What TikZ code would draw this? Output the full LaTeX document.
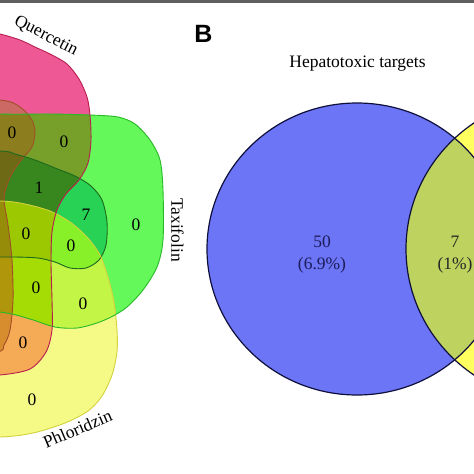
\documentclass[tikz,border=0pt]{standalone}
\usepackage{fontspec}
\setmainfont{Liberation Serif}
\newfontfamily\bsans{Liberation Sans}
% region colours (panel A)
\definecolor{cQ}{RGB}{238,88,148}
\definecolor{cG}{RGB}{100,248,90}
\definecolor{cY}{RGB}{245,250,135}
\definecolor{cQO}{RGB}{205,105,100}
\definecolor{cQG}{RGB}{118,160,42}
\definecolor{cGY}{RGB}{195,245,70}
\definecolor{cQY}{RGB}{245,170,85}
\definecolor{cGD}{RGB}{40,210,85}
\definecolor{cGDY}{RGB}{135,240,40}
\definecolor{cQGY}{RGB}{165,220,5}
\definecolor{cQGD}{RGB}{55,135,30}
\definecolor{cQGDY}{RGB}{155,200,0}
\definecolor{cQOY}{RGB}{215,140,45}
\definecolor{cQGO}{RGB}{140,125,30}
\definecolor{cQGDO}{RGB}{110,105,20}
\definecolor{cQGYO}{RGB}{175,150,10}
\definecolor{cQGDYO}{RGB}{150,140,10}
\definecolor{lQ}{RGB}{185,30,80}
\definecolor{lG}{RGB}{40,185,40}
\definecolor{lD}{RGB}{30,105,30}
\definecolor{lY}{RGB}{210,210,60}
\definecolor{lO}{RGB}{160,80,40}
% panel B
\definecolor{bBlue}{RGB}{108,117,245}
\definecolor{bYel}{RGB}{255,255,95}
\definecolor{bOv}{RGB}{190,210,95}
\definecolor{bLine}{RGB}{15,15,60}
\definecolor{topbar}{RGB}{95,95,95}
\definecolor{navytxt}{RGB}{28,28,90}
% shapes
\def\shQ{plot[smooth cycle] coordinates {(-80,20) (-30,28) (0,34) (20,40) (35,47) (52,55) (67,64) (79,79) (87,97) (90,115) (91,140) (88,163) (79,180) (66,194) (57,210) (52,232) (51,262) (52,300) (52,330) (46,352) (30,369) (0,375) (-40,376) (-80,340) (-90,150)}}
\def\shG{plot[smooth cycle] coordinates {(-80,110) (0,114) (50,114) (90,115) (118,117) (135,124) (150,140) (160,160) (163,190) (163,240) (157,267) (143,290) (127,307) (113,316) (97,323) (77,328) (55,327) (30,319) (0,312) (-80,305)}}
\def\shD{plot[smooth cycle] coordinates {(-80,150) (0,151) (15,154) (35,160) (55,168) (75,176) (91,186) (102,200) (107,222) (106,245) (99,260) (86,268) (70,268) (55,262) (38,258) (15,257) (0,257) (-80,256)}}
\def\shY{plot[smooth cycle] coordinates {(-80,200) (0,201) (25,204) (50,211) (70,222) (87,237) (100,255) (108,277) (114,302) (117,330) (117,352) (112,375) (102,396) (88,411) (65,423) (33,433) (0,437) (-80,438)}}
\def\shO{plot[smooth cycle] coordinates {(-80,95) (0,100) (20,107) (32,120) (35,133) (32,147) (23,158) (14,170) (7,185) (4,200) (8,225) (12,260) (13,300) (10,330) (4,345) (-5,352) (-80,352)}}
\begin{document}
\begin{tikzpicture}[x=1pt,y=-1pt,
  lab/.style={font=\fontsize{17.5}{20}\selectfont, inner sep=0pt},
  num/.style={lab, text=black},
  edge/.style={line width=0.9pt}]
\useasboundingbox (0,0) rectangle (474,474);
\clip (0,0) rectangle (474,474);
\fill[white] (0,0) rectangle (474,474);
% ---------- panel A ----------
\fill[cQ] \shQ;
\fill[cG] \shG;
\fill[cY] \shY;
\begin{scope}
  \clip \shG;
  \fill[cGY] \shY;
  \fill[cGD] \shD;
  \clip \shD;
  \fill[cGDY] \shY;
\end{scope}
\begin{scope}
  \clip \shQ;
  \fill[cQO] \shO;
  \fill[cQY] \shY;
  \begin{scope}\clip \shO; \fill[cQOY] \shY; \end{scope}
  \fill[cQG] \shG;
  \begin{scope}
    \clip \shG;
    \fill[cQGY] \shY;
    \fill[cQGD] \shD;
    \begin{scope}\clip \shD; \fill[cQGDY] \shY; \end{scope}
    \begin{scope}
      \clip \shO;
      \fill[cQGO] \shG;
      \fill[cQGYO] \shY;
      \fill[cQGDO] \shD;
      \clip \shD;
      \fill[cQGDYO] \shY;
    \end{scope}
  \end{scope}
\end{scope}
\draw[edge, lO] \shO;
\draw[edge, lD] \shD;
\draw[edge, lY] \shY;
\draw[edge, lG] \shG;
\draw[edge, lQ] \shQ;
% labels A
\node[lab, rotate=-27] (qlab) at (46,36) {Quercetin};
\node[lab, rotate=-90] (tlab) at (177.5,230) {Taxifolin};
\node[lab, rotate=23] (plab) at (77.5,429) {Phloridzin};
\node[num] (n1) at (12,133) {0};
\node[num] (n2) at (64,142) {0};
\node[num] (n3) at (39,188) {1};
\node[num] (n4) at (86,215) {7};
\node[num] (n5) at (136,225) {0};
\node[num] (n6) at (26,234) {0};
\node[num] (n7) at (71,246) {0};
\node[num] (n8) at (36,288) {0};
\node[num] (n9) at (83,304) {0};
\node[num] (n10) at (23,343) {0};
\node[num] (n11) at (32,400) {0};
% ---------- panel B ----------
\fill[topbar] (0,0) rectangle (474,2.5);
\node[inner sep=0pt, font=\bsans\bfseries\fontsize{25}{28}\selectfont] (blab) at (203.5,34) {B};
\node[lab, anchor=base] (htitle) at (357.5,67) {Hepatotoxic targets};
\fill[bBlue] (357,249) ellipse [x radius=150, y radius=146];
\fill[bYel] (563,249) ellipse [x radius=157, y radius=153];
\begin{scope}
  \clip (357,249) ellipse [x radius=150, y radius=146];
  \fill[bOv] (563,249) ellipse [x radius=157, y radius=153];
\end{scope}
\draw[bLine, line width=1.2pt] (357,249) ellipse [x radius=150, y radius=146];
\draw[bLine, line width=1.2pt] (563,249) ellipse [x radius=157, y radius=153];
\node[lab, text=navytxt] (b50) at (322,242) {50};
\node[lab, text=navytxt] (b50p) at (322,265) {(6.9\%)};
\node[lab, text=black!85] (b7) at (455,242) {7};
\node[lab, text=black!85] (b7p) at (455,265) {(1\%)};
\end{tikzpicture}
\end{document}
